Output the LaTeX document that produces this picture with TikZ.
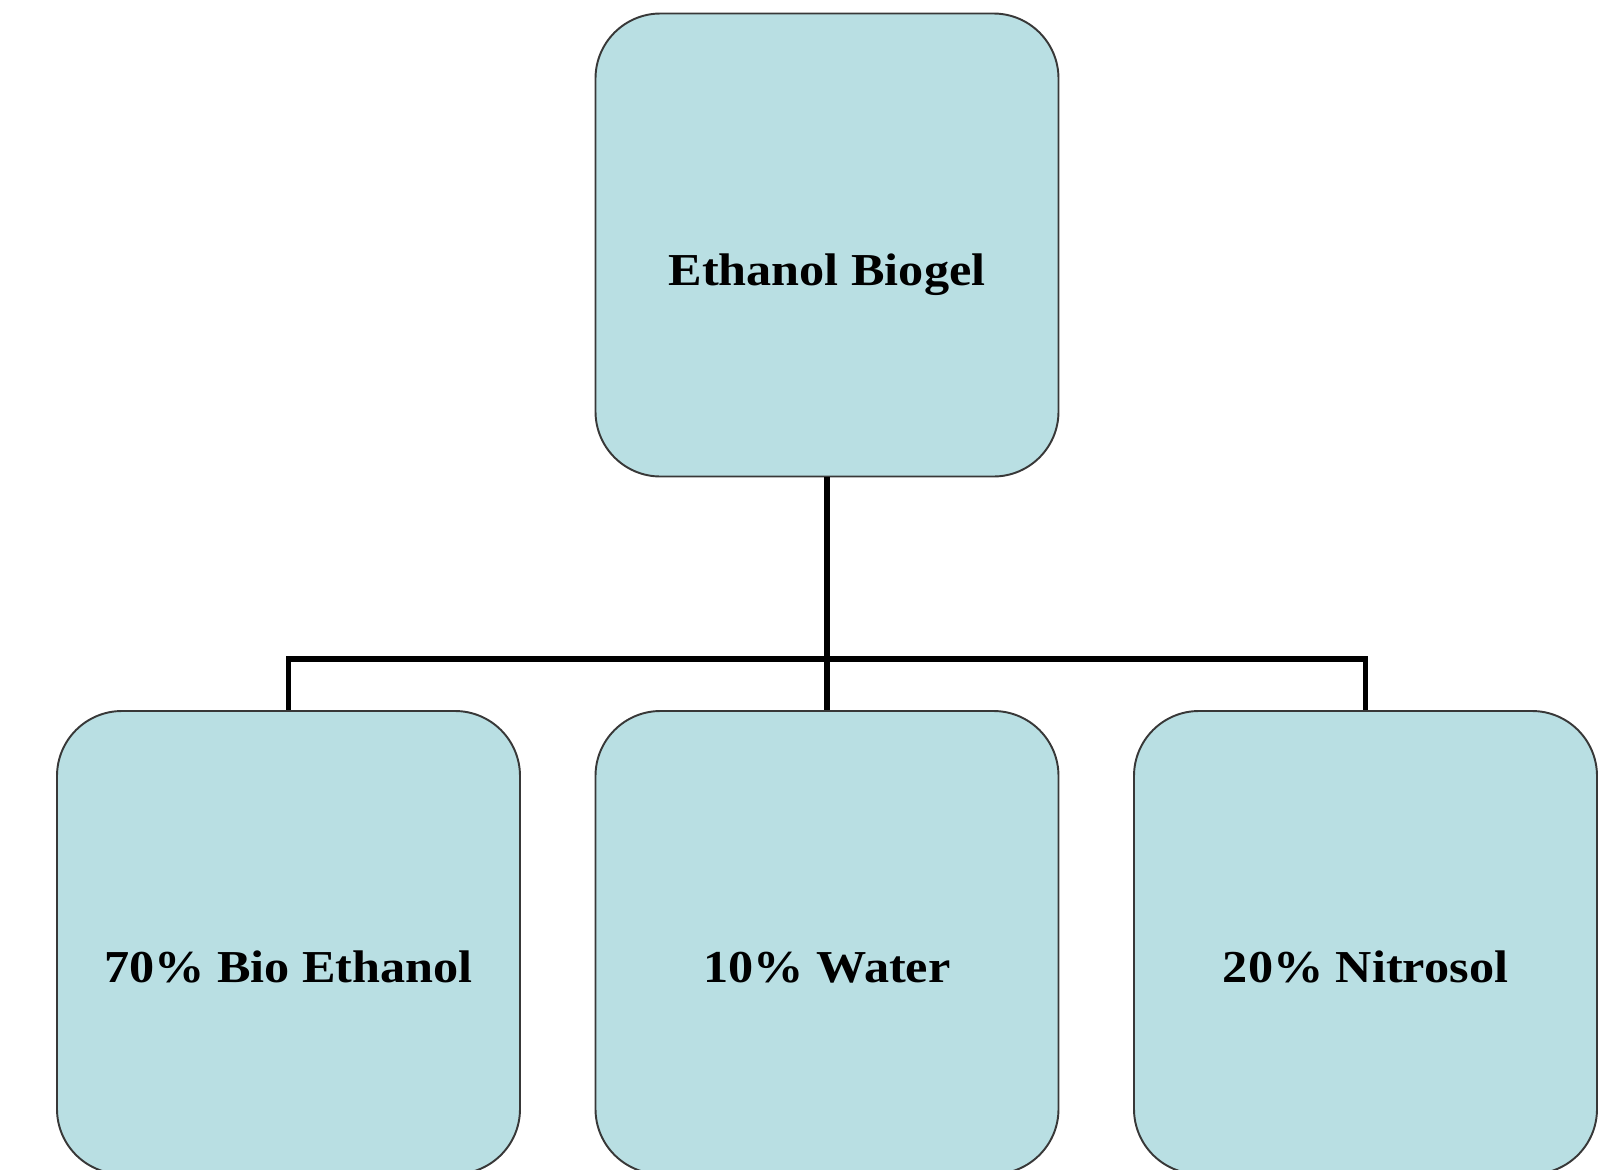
\documentclass[tikz,border=0pt]{standalone}
\usepackage{fontspec}
\setmainfont[FakeStretch=1.1]{Liberation Serif}
\usepackage{xcolor}
\usepackage{tikz}
\usetikzlibrary{calc}
\definecolor{BiogelFill}{HTML}{B9DFE3}
\definecolor{BiogelEdge}{HTML}{383838}

\begin{document}
\begin{tikzpicture}[
    level distance=13.95cm,
    sibling distance=10.77cm,
    every node/.style={draw=BiogelEdge, line width=1.1pt, rounded corners=1.3cm,
      fill=BiogelFill, minimum width=9.26cm, minimum height=9.26cm,
      inner sep=0pt, text height=1.6cm, text depth=0pt,
      font=\fontsize{26}{31}\selectfont\bfseries},
    edge from parent/.style={draw=black, line width=3.2pt},
    edge from parent path={(\tikzparentnode.south) |- ($(\tikzchildnode.north)+(0,1.02cm)$)
      -- (\tikzchildnode.north)}
  ]
    \useasboundingbox (0,0) rectangle (32.2,-23.4);
    \node (biogel) at (16.54,-4.9) {Ethanol Biogel}
      child { node (ethanol) {70\% Bio Ethanol} }
      child { node (water) {10\% Water} }
      child { node (nitrosol) {20\% Nitrosol} };
  \end{tikzpicture}
\end{document}
